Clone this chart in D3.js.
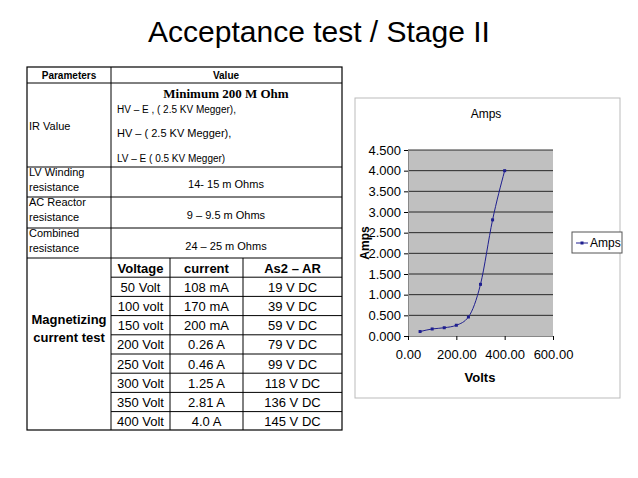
<!DOCTYPE html>
<html><head><meta charset="utf-8">
<script src="https://cdn.jsdelivr.net/npm/d3@7"></script>
<style>body{margin:0;background:#fff}</style>
</head><body>
<script>
// Datos de la tabla y del gráfico
const voltage = ["50 Volt","100 volt","150 volt","200 Volt","250 Volt","300 Volt","350 Volt","400 Volt"];
const current = ["108 mA","170 mA","200 mA","0.26 A","0.46 A","1.25 A","2.81 A","4.0  A"];
const as2ar = ["19 V DC","39 V DC","59 V DC","79 V DC","99 V DC","118 V DC","136 V DC","145 V DC"];
const volts = [50,100,150,200,250,300,350,400];
const amps = [0.108,0.17,0.2,0.26,0.46,1.25,2.81,4.0];
const yTicks = [0,0.5,1,1.5,2,2.5,3,3.5,4,4.5];
const xTicks = [0,200,400,600];

const svg = d3.select("body").append("svg").attr("width",638).attr("height",478)
  .style("font-family","Arial, 'Liberation Sans', sans-serif");

svg.append("text").attr("x",319).attr("y",42).attr("text-anchor","middle")
  .attr("font-size",30).text("Acceptance  test / Stage II");

// Tabla
const L=27,C1=111,C2=170,C3=243,R=342;
const g = svg.append("g").attr("stroke","#000").attr("fill","none");
const line=(x1,y1,x2,y2,w=1)=>g.append("line").attr("x1",x1).attr("y1",y1).attr("x2",x2).attr("y2",y2).attr("stroke-width",w);
const rowY=[67,83,167,197,228,258];
const magY=d3.range(9).map(i=>258+i*19.2);
g.append("rect").attr("x",L).attr("y",67).attr("width",R-L).attr("height",430-67).attr("stroke-width",1.2);
rowY.slice(1).forEach(y=>line(L,y,R,y));
line(C1,67,C1,430);
magY.slice(1).forEach(y=>line(C1,y,R,y));
line(C2,258,C2,430); line(C3,258,C3,430);

const t=(x,y,s,o={})=>svg.append("text").attr("x",x).attr("y",y).attr("font-size",o.size||11)
  .attr("text-anchor",o.anchor||"start").attr("font-weight",o.bold?"bold":null)
  .attr("font-family",o.family||null).text(s);
t(69,79,"Parameters",{anchor:"middle",bold:1,size:10});
t(226,79,"Value",{anchor:"middle",bold:1,size:10});
t(226,98,"Minimum 200 M Ohm",{anchor:"middle",bold:1,size:13,family:"'Liberation Serif', serif"});
t(117,113,"HV – E , ( 2.5 KV Megger),",{size:10});
t(117,137,"HV – ( 2.5 KV Megger),",{size:11});
t(117,162,"LV – E ( 0.5 KV Megger)",{size:10});
t(29,130,"IR Value");
t(29,176,"LV Winding"); t(29,191,"resistance"); t(226,188,"14- 15 m Ohms",{anchor:"middle"});
t(29,206,"AC Reactor"); t(29,221,"resistance"); t(226,219,"9 – 9.5 m Ohms",{anchor:"middle"});
t(29,237,"Combined"); t(29,252,"resistance"); t(226,250,"24 – 25 m Ohms",{anchor:"middle"});
t(69,324,"Magnetizing",{anchor:"middle",bold:1,size:13});
t(69,342,"current test",{anchor:"middle",bold:1,size:13});
const hdr=["Voltage","current","As2 – AR"],cx=[(C1+C2)/2,(C2+C3)/2,(C3+R)/2];
hdr.forEach((h,i)=>t(cx[i],magY[0]+15,h,{anchor:"middle",bold:1,size:13}));
[voltage,current,as2ar].forEach((col,i)=>col.forEach((s,j)=>t(cx[i],magY[j+1]+14.5,s,{anchor:"middle",size:13})));

// Gráfico
const nf="'Liberation Sans Narrow', Arial, sans-serif";
svg.append("rect").attr("x",355).attr("y",98).attr("width",265).attr("height",300)
  .attr("fill","#fff").attr("stroke","#bbb");
const x=d3.scaleLinear().domain([0,600]).range([408,553]);
const y=d3.scaleLinear().domain([0,4.5]).range([336,150]);
svg.append("rect").attr("x",408).attr("y",150).attr("width",145).attr("height",186).attr("fill","#c0c0c0");
svg.append("g").selectAll("line").data(yTicks.slice(1)).join("line")
  .attr("x1",408).attr("x2",553).attr("y1",d=>y(d)).attr("y2",d=>y(d)).attr("stroke","#000").attr("stroke-width",0.8);
svg.append("g").attr("transform","translate(408,0)").call(d3.axisLeft(y).tickValues(yTicks).tickFormat(d3.format(".3f")).tickSize(4))
  .call(a=>a.selectAll("text").attr("font-size",13).attr("font-family",nf))
  .call(a=>a.select(".domain").attr("stroke","#888"));
svg.append("g").attr("transform","translate(0,336)").call(d3.axisBottom(x).tickValues(xTicks).tickFormat(d3.format(".2f")).tickSize(4))
  .call(a=>a.selectAll("text").attr("font-size",13).attr("dy","1.2em").attr("font-family",nf))
  .call(a=>a.select(".domain").attr("stroke","#888"));
const pts=volts.map((v,i)=>[v,amps[i]]);
svg.append("path").datum(pts).attr("fill","none").attr("stroke","#1f1f8f").attr("stroke-width",1)
  .attr("d",d3.line().x(d=>x(d[0])).y(d=>y(d[1])).curve(d3.curveMonotoneX));
svg.append("g").selectAll("rect").data(pts).join("rect")
  .attr("x",d=>x(d[0])-1.5).attr("y",d=>y(d[1])-1.5).attr("width",3).attr("height",3).attr("fill","#1f1f8f");
t(486,118,"Amps",{anchor:"middle",size:12,family:nf});
t(480,382,"Volts",{anchor:"middle",size:13,bold:1,family:nf});
svg.append("text").attr("transform","translate(369,243) rotate(-90)").attr("text-anchor","middle")
  .attr("font-size",12).attr("font-weight","bold").text("Amps");
svg.append("rect").attr("x",572).attr("y",232).attr("width",50).attr("height",21).attr("fill","#fff").attr("stroke","#555");
svg.append("line").attr("x1",576).attr("x2",588).attr("y1",243).attr("y2",243).attr("stroke","#1f1f8f");
svg.append("rect").attr("x",580.5).attr("y",241.5).attr("width",3).attr("height",3).attr("fill","#1f1f8f");
t(590,247,"Amps",{size:12,family:nf});
</script>
</body></html>
